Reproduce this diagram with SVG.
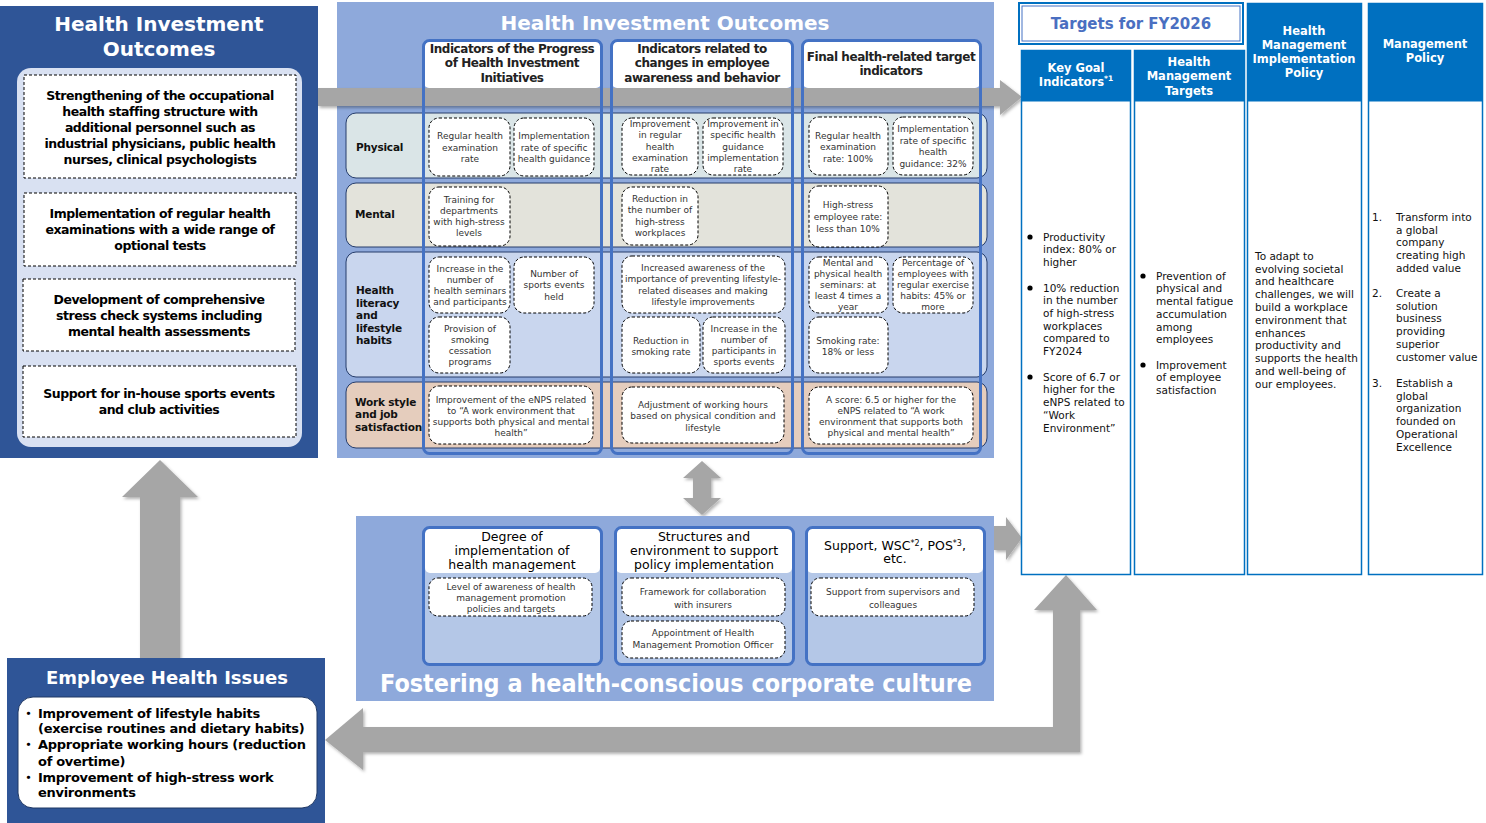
<svg xmlns="http://www.w3.org/2000/svg" width="1486" height="823" viewBox="0 0 1486 823">
<defs>
<filter id="sh" x="-10%" y="-10%" width="130%" height="130%">
<feDropShadow dx="1.5" dy="2" stdDeviation="1.5" flood-color="#000" flood-opacity="0.3"/>
</filter>
</defs>
<style>
text{font-family:"DejaVu Sans","Liberation Sans",sans-serif}
.wt{fill:#fff;font-weight:bold;text-anchor:middle}
.ft{fill:#fff;font-weight:bold;text-anchor:start;font-size:25px}
.lb{font-size:12.5px;font-weight:bold;fill:#000;text-anchor:middle;letter-spacing:-0.45px}
.ch{font-size:12px;font-weight:bold;fill:#222;text-anchor:middle;letter-spacing:-0.45px}
.rl{font-size:10.5px;font-weight:bold;fill:#111;letter-spacing:-0.2px}
.ct{font-size:9px;fill:#333;text-anchor:middle}
.db{fill:#fff;stroke:#000;stroke-width:1;stroke-dasharray:3 2}
.fr{fill:none;stroke:#4472C4;stroke-width:3}
.row{stroke:#263D6B;stroke-width:1}
.arw{fill:#A6A6A6;filter:url(#sh)}
.rh{font-size:11.5px;font-weight:bold;fill:#fff;text-anchor:middle}
.rb{font-size:10.5px;fill:#111}
.rc{fill:#fff;stroke:#0070C0;stroke-width:1.5}
.bh{font-size:12.5px;fill:#000;text-anchor:middle}
.eh{font-size:13px;font-weight:bold;fill:#000;letter-spacing:-0.3px}
.bu{font-size:13px;font-weight:bold;fill:#000;font-family:"Noto Sans CJK JP",sans-serif}
</style>

<!-- Left panel -->
<g id="left-outcomes">
<rect x="0" y="6" width="318" height="452" fill="#2F5597"/>
<text class="wt" x="159" y="31" font-size="20">Health Investment</text>
<text class="wt" x="159" y="56" font-size="20">Outcomes</text>
<rect x="17" y="68" width="285" height="379" rx="14" fill="#D9E1F2"/>
<g id="lo-1">
<rect class="db" x="24" y="75" width="272" height="103"/>
<text class="lb" x="160" y="100">Strengthening of the occupational</text>
<text class="lb" x="160" y="116">health staffing structure with</text>
<text class="lb" x="160" y="131.5">additional personnel such as</text>
<text class="lb" x="160" y="147.5">industrial physicians, public health</text>
<text class="lb" x="160" y="163.5">nurses, clinical psychologists</text>
</g>
<g id="lo-2">
<rect class="db" x="24" y="193" width="272" height="73"/>
<text class="lb" x="160" y="217.5">Implementation of regular health</text>
<text class="lb" x="160" y="233.5">examinations with a wide range of</text>
<text class="lb" x="160" y="250">optional tests</text>
</g>
<g id="lo-3">
<rect class="db" x="23" y="279" width="272" height="72"/>
<text class="lb" x="159" y="303.5">Development of comprehensive</text>
<text class="lb" x="159" y="319.5">stress check systems including</text>
<text class="lb" x="159" y="336">mental health assessments</text>
</g>
<g id="lo-4">
<rect class="db" x="23" y="366" width="273" height="71"/>
<text class="lb" x="159" y="397.5">Support for in-house sports events</text>
<text class="lb" x="159" y="413.5">and club activities</text>
</g>
</g>

<!-- Main panel -->
<g id="main-outcomes">
<rect x="337" y="2" width="657" height="456" fill="#8EA9DB"/>
<text class="wt" x="665" y="30" font-size="20">Health Investment Outcomes</text>
<g id="row-physical">
<rect class="row" x="346" y="113" width="641" height="65" rx="10" fill="#DAE5E7"/>
<text class="rl" x="356" y="150.5">Physical</text>
</g>
<g id="row-mental">
<rect class="row" x="346" y="183" width="641" height="64" rx="10" fill="#E3E3DB"/>
<text class="rl" x="355" y="218">Mental</text>
</g>
<g id="row-literacy">
<rect class="row" x="346" y="252" width="641" height="125" rx="10" fill="#C9D6EE"/>
<text class="rl" x="356" y="294">Health</text>
<text class="rl" x="356" y="306.5">literacy</text>
<text class="rl" x="356" y="319">and</text>
<text class="rl" x="356" y="331.5">lifestyle</text>
<text class="rl" x="356" y="344">habits</text>
</g>
<g id="row-workstyle">
<rect class="row" x="346" y="382" width="641" height="66" rx="10" fill="#E5CDBD"/>
<text class="rl" x="355" y="405.5">Work style</text>
<text class="rl" x="355" y="418">and job</text>
<text class="rl" x="355" y="430.5">satisfaction</text>
</g>
</g>

<!-- Connectors -->
<g id="connectors">
<polygon class="arw" points="318,88 1000,88 1000,80 1022,97 1000,115 1000,106 318,106"/>
<polygon class="arw" points="702,461 721,478 711,478 711,498 721,498 702,515 683,498 693,498 693,478 683,478"/>
<polygon class="arw" points="994,526 1006,526 1006,517 1022,538 1006,560 1006,550 994,550"/>
<polygon class="arw" points="160,460 198,497 180,497 180,658 140,658 140,497 122,497"/>
<polygon class="arw" points="325,740 363,708 363,727 1053,727 1053,610 1034,610 1066,575 1097,610 1080,610 1080,752 363,752 363,770"/>
</g>

<!-- Column frames in main panel -->
<g id="col-progress">
<rect x="424" y="41" width="177" height="47" rx="5" fill="#fff"/>
<rect class="fr" x="423.5" y="40.5" width="178" height="413" rx="6"/>
<text class="ch" x="512" y="53">Indicators of the Progress</text>
<text class="ch" x="512" y="67">of Health Investment</text>
<text class="ch" x="512" y="82">Initiatives</text>
</g>
<g id="col-awareness">
<rect x="612" y="41" width="180" height="47" rx="5" fill="#fff"/>
<rect class="fr" x="611.5" y="40.5" width="181" height="413" rx="6"/>
<text class="ch" x="702" y="53">Indicators related to</text>
<text class="ch" x="702" y="67">changes in employee</text>
<text class="ch" x="702" y="82">awareness and behavior</text>
</g>
<g id="col-final">
<rect x="803" y="41" width="177" height="47" rx="5" fill="#fff"/>
<rect class="fr" x="802.5" y="40.5" width="178" height="413" rx="6"/>
<text class="ch" x="891" y="61">Final health-related target</text>
<text class="ch" x="891" y="75">indicators</text>
</g>

<!-- Cells: Physical -->
<g id="c-p1a"><rect class="db" x="429" y="118" width="81" height="58" rx="10"/>
<text class="ct" x="470" y="139">Regular health</text><text class="ct" x="470" y="150.5">examination</text><text class="ct" x="470" y="161.5">rate</text></g>
<g id="c-p1b"><rect class="db" x="514" y="118" width="80" height="58" rx="10"/>
<text class="ct" x="554" y="139">Implementation</text><text class="ct" x="554" y="150.5">rate of specific</text><text class="ct" x="554" y="161.5">health guidance</text></g>
<g id="c-p2a"><rect class="db" x="622" y="118" width="76" height="57" rx="10"/>
<text class="ct" x="660" y="126.5">Improvement</text><text class="ct" x="660" y="138">in regular</text><text class="ct" x="660" y="149.5">health</text><text class="ct" x="660" y="161">examination</text><text class="ct" x="660" y="172">rate</text></g>
<g id="c-p2b"><rect class="db" x="703" y="118" width="80" height="57" rx="10"/>
<text class="ct" x="743" y="126.5">Improvement in</text><text class="ct" x="743" y="138">specific health</text><text class="ct" x="743" y="149.5">guidance</text><text class="ct" x="743" y="161">implementation</text><text class="ct" x="743" y="172">rate</text></g>
<g id="c-p3a"><rect class="db" x="809" y="117" width="79" height="58" rx="10"/>
<text class="ct" x="848" y="138.5">Regular health</text><text class="ct" x="848" y="150">examination</text><text class="ct" x="848" y="161.5">rate: 100%</text></g>
<g id="c-p3b"><rect class="db" x="893" y="117" width="80" height="58" rx="10"/>
<text class="ct" x="933" y="132">Implementation</text><text class="ct" x="933" y="143.7">rate of specific</text><text class="ct" x="933" y="155.4">health</text><text class="ct" x="933" y="167">guidance: 32%</text></g>

<!-- Cells: Mental -->
<g id="c-m1"><rect class="db" x="429" y="187" width="81" height="59" rx="10"/>
<text class="ct" x="469" y="202.5">Training for</text><text class="ct" x="469" y="213.8">departments</text><text class="ct" x="469" y="225.1">with high-stress</text><text class="ct" x="469" y="236.4">levels</text></g>
<g id="c-m2"><rect class="db" x="622" y="187" width="76" height="58" rx="10"/>
<text class="ct" x="660" y="202">Reduction in</text><text class="ct" x="660" y="213.3">the number of</text><text class="ct" x="660" y="224.6">high-stress</text><text class="ct" x="660" y="235.9">workplaces</text></g>
<g id="c-m3"><rect class="db" x="809" y="186" width="79" height="61" rx="10"/>
<text class="ct" x="848" y="207.5">High-stress</text><text class="ct" x="848" y="219.5">employee rate:</text><text class="ct" x="848" y="231.5">less than 10%</text></g>

<!-- Cells: Health literacy -->
<g id="c-h1a"><rect class="db" x="429" y="257" width="81" height="56" rx="10"/>
<text class="ct" x="470" y="271.5">Increase in the</text><text class="ct" x="470" y="282.8">number of</text><text class="ct" x="470" y="294.1">health seminars</text><text class="ct" x="470" y="305.4">and participants</text></g>
<g id="c-h1b"><rect class="db" x="514" y="257" width="80" height="56" rx="10"/>
<text class="ct" x="554" y="276.5">Number of</text><text class="ct" x="554" y="288">sports events</text><text class="ct" x="554" y="299.5">held</text></g>
<g id="c-h1c"><rect class="db" x="429" y="317" width="81" height="56" rx="10"/>
<text class="ct" x="470" y="331.5">Provision of</text><text class="ct" x="470" y="342.8">smoking</text><text class="ct" x="470" y="354.1">cessation</text><text class="ct" x="470" y="365.4">programs</text></g>
<g id="c-h2a"><rect class="db" x="622" y="256" width="163" height="57" rx="10"/>
<text class="ct" x="703" y="270.5">Increased awareness of the</text><text class="ct" x="703" y="282">importance of preventing lifestyle-</text><text class="ct" x="703" y="293.5">related diseases and making</text><text class="ct" x="703" y="305">lifestyle improvements</text></g>
<g id="c-h2b"><rect class="db" x="622" y="317" width="78" height="56" rx="10"/>
<text class="ct" x="661" y="343.5">Reduction in</text><text class="ct" x="661" y="355">smoking rate</text></g>
<g id="c-h2c"><rect class="db" x="703" y="317" width="82" height="56" rx="10"/>
<text class="ct" x="744" y="331.5">Increase in the</text><text class="ct" x="744" y="342.8">number of</text><text class="ct" x="744" y="354.1">participants in</text><text class="ct" x="744" y="365.4">sports events</text></g>
<g id="c-h3a"><rect class="db" x="809" y="257" width="79" height="56" rx="10"/>
<text class="ct" x="848" y="265.5">Mental and</text><text class="ct" x="848" y="276.7">physical health</text><text class="ct" x="848" y="287.9">seminars: at</text><text class="ct" x="848" y="299.1">least 4 times a</text><text class="ct" x="848" y="310.3">year</text></g>
<g id="c-h3b"><rect class="db" x="893" y="257" width="80" height="56" rx="10"/>
<text class="ct" x="933" y="265.5">Percentage of</text><text class="ct" x="933" y="276.7">employees with</text><text class="ct" x="933" y="287.9">regular exercise</text><text class="ct" x="933" y="299.1">habits: 45% or</text><text class="ct" x="933" y="310.3">more</text></g>
<g id="c-h3c"><rect class="db" x="809" y="317" width="79" height="56" rx="10"/>
<text class="ct" x="848" y="343.5">Smoking rate:</text><text class="ct" x="848" y="355">18% or less</text></g>

<!-- Cells: Work style -->
<g id="c-w1"><rect class="db" x="429" y="386" width="164" height="58" rx="10"/>
<text class="ct" x="511" y="402.5">Improvement of the eNPS related</text><text class="ct" x="511" y="413.5">to “A work environment that</text><text class="ct" x="511" y="424.5">supports both physical and mental</text><text class="ct" x="511" y="435.5">health”</text></g>
<g id="c-w2"><rect class="db" x="622" y="387" width="162" height="56" rx="10"/>
<text class="ct" x="703" y="407.5">Adjustment of working hours</text><text class="ct" x="703" y="419">based on physical condition and</text><text class="ct" x="703" y="430.5">lifestyle</text></g>
<g id="c-w3"><rect class="db" x="809" y="387" width="164" height="57" rx="10"/>
<text class="ct" x="891" y="402.5">A score: 6.5 or higher for the</text><text class="ct" x="891" y="413.8">eNPS related to “A work</text><text class="ct" x="891" y="425.1">environment that supports both</text><text class="ct" x="891" y="436.4">physical and mental health”</text></g>

<!-- Bottom panel -->
<g id="culture">
<rect x="356" y="516" width="638" height="185" fill="#8EA9DB"/>
<g id="cu-1">
<rect x="424" y="528" width="177" height="136" rx="6" fill="#B4C7E7"/>
<rect x="425" y="529" width="175" height="44" rx="5" fill="#fff"/>
<rect class="fr" x="423.5" y="527.5" width="178" height="137" rx="6"/>
<text class="bh" x="512" y="541.4">Degree of</text>
<text class="bh" x="512" y="555.4">implementation of</text>
<text class="bh" x="512" y="569.4">health management</text>
<rect class="db" x="429" y="578" width="163" height="38" rx="9"/>
<text class="ct" x="511" y="590">Level of awareness of health</text>
<text class="ct" x="511" y="601">management promotion</text>
<text class="ct" x="511" y="612">policies and targets</text>
</g>
<g id="cu-2">
<rect x="615" y="528" width="178" height="136" rx="6" fill="#B4C7E7"/>
<rect x="616" y="529" width="176" height="44" rx="5" fill="#fff"/>
<rect class="fr" x="615.5" y="527.5" width="178" height="137" rx="6"/>
<text class="bh" x="704" y="541.4">Structures and</text>
<text class="bh" x="704" y="555.4">environment to support</text>
<text class="bh" x="704" y="569.4">policy implementation</text>
<rect class="db" x="622" y="578" width="163" height="38" rx="9"/>
<text class="ct" x="703" y="595">Framework for collaboration</text>
<text class="ct" x="703" y="608">with insurers</text>
<rect class="db" x="622" y="621" width="163" height="37" rx="9"/>
<text class="ct" x="703" y="636">Appointment of Health</text>
<text class="ct" x="703" y="648">Management Promotion Officer</text>
</g>
<g id="cu-3">
<rect x="806" y="528" width="178" height="136" rx="6" fill="#B4C7E7"/>
<rect x="807" y="529" width="176" height="44" rx="5" fill="#fff"/>
<rect class="fr" x="806.5" y="527.5" width="178" height="137" rx="6"/>
<text class="bh" x="895" y="550.4">Support, WSC<tspan font-size="8" dy="-4">*2</tspan><tspan dy="4">, POS</tspan><tspan font-size="8" dy="-4">*3</tspan><tspan dy="4">,</tspan></text>
<text class="bh" x="895" y="563.4">etc.</text>
<rect class="db" x="811" y="578" width="163" height="38" rx="9"/>
<text class="ct" x="893" y="595">Support from supervisors and</text>
<text class="ct" x="893" y="608">colleagues</text>
</g>
<text class="ft" x="380" y="692" textLength="592" lengthAdjust="spacingAndGlyphs">Fostering a health-conscious corporate culture</text>
</g>

<!-- Right: targets -->
<g id="targets-title">
<rect x="1019" y="3" width="224" height="41" fill="#fff" stroke="#0070C0" stroke-width="2"/>
<rect x="1022" y="6" width="218" height="35" fill="none" stroke="#4472C4" stroke-width="1"/>
<text x="1131" y="29" font-size="15" font-weight="bold" fill="#4A6FC1" text-anchor="middle">Targets for FY2026</text>
</g>
<g id="kgi">
<rect class="rc" x="1021.5" y="50.5" width="109" height="524"/>
<rect x="1021.5" y="50.5" width="109" height="51" fill="#0070C0"/>
<text class="rh" x="1076" y="72">Key Goal</text>
<text class="rh" x="1076" y="86">Indicators<tspan font-size="7.5" dy="-5">*1</tspan></text>
<circle cx="1030" cy="237" r="2.6" fill="#000"/>
<text class="rb" x="1043" y="240.7">Productivity</text>
<text class="rb" x="1043" y="253.2">index: 80% or</text>
<text class="rb" x="1043" y="265.7">higher</text>
<circle cx="1030" cy="288" r="2.6" fill="#000"/>
<text class="rb" x="1043" y="291.7">10% reduction</text>
<text class="rb" x="1043" y="304.4">in the number</text>
<text class="rb" x="1043" y="317">of high-stress</text>
<text class="rb" x="1043" y="329.7">workplaces</text>
<text class="rb" x="1043" y="342.4">compared to</text>
<text class="rb" x="1043" y="355.1">FY2024</text>
<circle cx="1030" cy="377" r="2.6" fill="#000"/>
<text class="rb" x="1043" y="380.7">Score of 6.7 or</text>
<text class="rb" x="1043" y="393.4">higher for the</text>
<text class="rb" x="1043" y="406.1">eNPS related to</text>
<text class="rb" x="1043" y="418.8">“Work</text>
<text class="rb" x="1043" y="431.5">Environment”</text>
</g>
<g id="hm-targets">
<rect class="rc" x="1134.5" y="50.5" width="110" height="524"/>
<rect x="1134.5" y="50.5" width="110" height="51" fill="#0070C0"/>
<text class="rh" x="1189" y="66">Health</text>
<text class="rh" x="1189" y="80">Management</text>
<text class="rh" x="1189" y="95">Targets</text>
<circle cx="1143" cy="276" r="2.6" fill="#000"/>
<text class="rb" x="1156" y="279.7">Prevention of</text>
<text class="rb" x="1156" y="292.4">physical and</text>
<text class="rb" x="1156" y="305.1">mental fatigue</text>
<text class="rb" x="1156" y="317.8">accumulation</text>
<text class="rb" x="1156" y="330.5">among</text>
<text class="rb" x="1156" y="343.2">employees</text>
<circle cx="1143" cy="365" r="2.6" fill="#000"/>
<text class="rb" x="1156" y="368.7">Improvement</text>
<text class="rb" x="1156" y="381.4">of employee</text>
<text class="rb" x="1156" y="394.1">satisfaction</text>
</g>
<g id="hm-policy">
<rect class="rc" x="1247.5" y="3.5" width="114" height="571"/>
<rect x="1247.5" y="3.5" width="114" height="98" fill="#0070C0"/>
<text class="rh" x="1304" y="35">Health</text>
<text class="rh" x="1304" y="48.5">Management</text>
<text class="rh" x="1304" y="63">Implementation</text>
<text class="rh" x="1304" y="77">Policy</text>
<text class="rb" x="1255" y="259.7">To adapt to</text>
<text class="rb" x="1255" y="272.5">evolving societal</text>
<text class="rb" x="1255" y="285.3">and healthcare</text>
<text class="rb" x="1255" y="298.1">challenges, we will</text>
<text class="rb" x="1255" y="310.9">build a workplace</text>
<text class="rb" x="1255" y="323.7">environment that</text>
<text class="rb" x="1255" y="336.5">enhances</text>
<text class="rb" x="1255" y="349.3">productivity and</text>
<text class="rb" x="1255" y="362.1">supports the health</text>
<text class="rb" x="1255" y="374.9">and well-being of</text>
<text class="rb" x="1255" y="387.7">our employees.</text>
</g>
<g id="mgmt-policy">
<rect class="rc" x="1368.5" y="3.5" width="114" height="571"/>
<rect x="1368.5" y="3.5" width="114" height="98" fill="#0070C0"/>
<text class="rh" x="1425" y="48">Management</text>
<text class="rh" x="1425" y="62">Policy</text>
<text class="rb" x="1372" y="220.7">1.</text>
<text class="rb" x="1396" y="220.7">Transform into</text>
<text class="rb" x="1396" y="233.5">a global</text>
<text class="rb" x="1396" y="246.2">company</text>
<text class="rb" x="1396" y="259">creating high</text>
<text class="rb" x="1396" y="271.7">added value</text>
<text class="rb" x="1372" y="296.7">2.</text>
<text class="rb" x="1396" y="296.7">Create a</text>
<text class="rb" x="1396" y="309.5">solution</text>
<text class="rb" x="1396" y="322.2">business</text>
<text class="rb" x="1396" y="335">providing</text>
<text class="rb" x="1396" y="347.7">superior</text>
<text class="rb" x="1396" y="360.5">customer value</text>
<text class="rb" x="1372" y="386.7">3.</text>
<text class="rb" x="1396" y="386.7">Establish a</text>
<text class="rb" x="1396" y="399.5">global</text>
<text class="rb" x="1396" y="412.2">organization</text>
<text class="rb" x="1396" y="425">founded on</text>
<text class="rb" x="1396" y="437.7">Operational</text>
<text class="rb" x="1396" y="450.5">Excellence</text>
</g>

<!-- Employee Health Issues -->
<g id="employee-issues">
<rect x="7" y="658" width="318" height="165" fill="#2F5597"/>
<text class="wt" x="167" y="684" font-size="18">Employee Health Issues</text>
<rect x="18" y="697" width="299" height="111" rx="15" fill="#fff" stroke="#1F3864" stroke-width="1"/>
<text class="bu" x="22" y="717.5">・</text>
<text class="eh" x="38" y="717.5">Improvement of lifestyle habits</text>
<text class="eh" x="38" y="733">(exercise routines and dietary habits)</text>
<text class="bu" x="22" y="749">・</text>
<text class="eh" x="38" y="749">Appropriate working hours (reduction</text>
<text class="eh" x="38" y="765.5">of overtime)</text>
<text class="bu" x="22" y="781.5">・</text>
<text class="eh" x="38" y="781.5">Improvement of high-stress work</text>
<text class="eh" x="38" y="797">environments</text>
</g>
</svg>
